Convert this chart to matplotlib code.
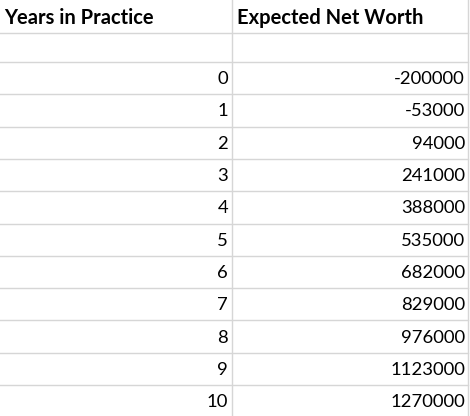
import matplotlib
matplotlib.use("Agg")
import matplotlib.pyplot as plt

headers = ["Years in Practice", "Expected Net Worth"]
years = [0, 1, 2, 3, 4, 5, 6, 7, 8, 9, 10]
net_worth = [-200000, -53000, 94000, 241000, 388000, 535000,
             682000, 829000, 976000, 1123000, 1270000]

W, H = 470, 416
fig = plt.figure(figsize=(W / 100, H / 100), dpi=100)
ax = fig.add_axes([0, 0, 1, 1])
ax.set_xlim(0, W)
ax.set_ylim(H, 0)
ax.axis("off")

grid = "#d6d6d6"
col_x = 232
right_x = 468
header_h = 33
blank_h = 29
row_h = 32.3
top_data = header_h + blank_h

# horizontal lines
ys = [header_h, top_data] + [top_data + row_h * (i + 1) for i in range(len(years))]
for y in ys:
    ax.plot([0, right_x], [y, y], color=grid, lw=1)
ax.plot([col_x, col_x], [0, H], color=grid, lw=1)
ax.plot([right_x, right_x], [0, H], color=grid, lw=1)

font = "Lato"
ax.text(4, header_h / 2 + 1, headers[0], ha="left", va="center",
        fontsize=14.5, fontweight="bold", family=font)
ax.text(col_x + 5, header_h / 2 + 1, headers[1], ha="left", va="center",
        fontsize=14.5, fontweight="bold", family=font)

for i, (yr, nw) in enumerate(zip(years, net_worth)):
    yc = top_data + row_h * (i + 0.5) + 1
    ax.text(col_x - 4, yc, str(yr), ha="right", va="center", fontsize=13.3, family=font)
    ax.text(right_x - 3, yc, str(nw), ha="right", va="center", fontsize=13.3, family=font)

fig.savefig("out.png", dpi=100, facecolor="white")
